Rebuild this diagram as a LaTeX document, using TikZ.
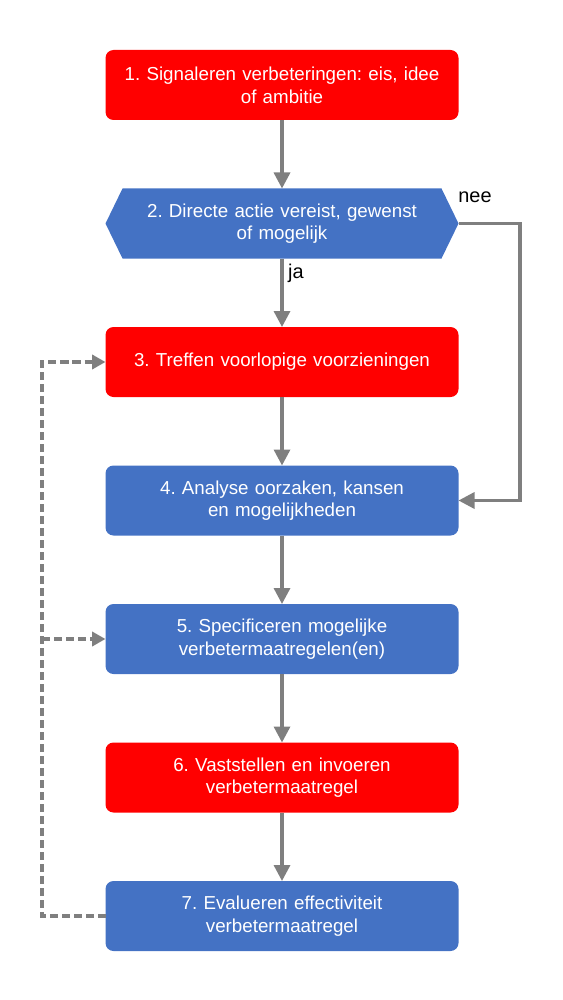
\documentclass[tikz,border=0pt]{standalone}
\usepackage{fontspec}
\setmainfont{Liberation Sans}
\usetikzlibrary{positioning,arrows.meta,backgrounds}
\definecolor{stepred}{HTML}{FF0000}
\definecolor{stepblue}{HTML}{4472C4}
\definecolor{linegray}{HTML}{7F7F7F}
\tikzset{
  stepbox/.style={rectangle, rounded corners=0.24cm, minimum width=10.59cm, minimum height=2.1cm,
    text width=10.2cm, align=center, text=white, inner sep=0pt, outer sep=0pt, font=\fontsize{16}{19.3}\selectfont},
  redbox/.style={stepbox, fill=stepred},
  bluebox/.style={stepbox, fill=stepblue},
  flow/.style={draw=linegray, line width=0.1cm, -{Triangle[length=0.48cm,width=0.48cm]}},
  back/.style={draw=linegray, line width=0.1cm, dash pattern=on 0.24cm off 0.12cm, -{Triangle[length=0.4cm,width=0.42cm]}},
  answer/.style={font=\fontsize{17}{20}\selectfont, inner sep=1pt}
}
\frenchspacing
\begin{document}
\begin{tikzpicture}[node distance=2.055cm]
\useasboundingbox (0,0) rectangle (16.86,-30);
\node[redbox] (signal) at (8.46,-2.55) {1. Signaleren verbeteringen: eis, idee\\of ambitie};
  \node[stepbox] (direct) [below=of signal] {2. Directe actie vereist, gewenst\\of mogelijk};
  \node[redbox] (treffen) [below=of direct] {3. Treffen voorlopige voorzieningen};
  \node[bluebox] (analyse) [below=of treffen] {4. Analyse oorzaken, kansen\\en mogelijkheden};
  \node[bluebox] (specificeren) [below=of analyse] {5. Specificeren mogelijke\\verbetermaatregelen(en)};
  \node[redbox] (vaststellen) [below=of specificeren] {6. Vaststellen en invoeren\\verbetermaatregel};
  \node[bluebox] (evalueren) [below=of vaststellen] {7. Evalueren effectiviteit\\verbetermaatregel};
  % decision shape
  \begin{scope}[on background layer]
   \fill[stepblue] (direct.west) -- ([xshift=0.51cm]direct.north west) -- ([xshift=-0.51cm]direct.north east)
     -- (direct.east) -- ([xshift=-0.51cm]direct.south east) -- ([xshift=0.51cm]direct.south west) -- cycle;
  \end{scope}
  \coordinate (L) at (1.26,0);
  \coordinate (R) at (15.6,0);
  \node[answer] (nee) at (14.25,-5.91) {nee};
   \draw[flow] (signal) to (direct);
   \draw[flow] (direct) to node [pos=0.22, right, answer, xshift=0.1cm] {ja} (treffen);
   \draw[flow] (treffen) to (analyse);
   \draw[flow] (analyse) to (specificeren);
   \draw[flow] (specificeren) to (vaststellen);
   \draw[flow] (vaststellen) to (evalueren);
   \draw[flow] (direct.east) -- (direct.east -| R) -- (analyse.east -| R) -- (analyse.east);
   \draw[back] (evalueren.west) -- (evalueren.west -| L) -- (treffen.west -| L) -- (treffen.west);
   \draw[back] (specificeren.west -| L) -- (specificeren.west);
\end{tikzpicture}
\end{document}
